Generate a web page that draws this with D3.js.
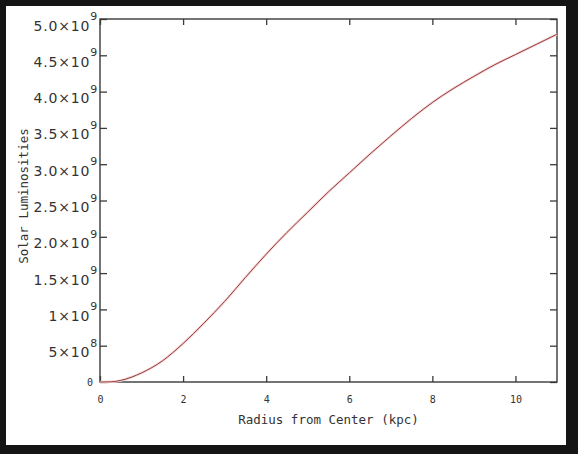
<!DOCTYPE html>
<html>
<head>
<meta charset="utf-8">
<script src="https://cdn.jsdelivr.net/npm/d3@7"></script>
<style>
  html, body { margin: 0; padding: 0; background: #141414; }
  svg { display: block; }
</style>
</head>
<body>
<div id="chart"></div>
<script>
// radius from center (kpc) and enclosed luminosity (solar luminosities)
const radius = [0, 0.25, 0.5, 1, 1.5, 2, 2.5, 3, 3.5, 4, 4.5, 5, 5.5, 6, 6.5, 7, 7.5, 8, 8.5, 9, 9.5, 10, 10.5, 11];
const luminosity = [0, 0.002e9, 0.022e9, 0.125e9, 0.29e9, 0.53e9, 0.81e9, 1.11e9, 1.44e9, 1.76e9, 2.06e9, 2.34e9,
  2.62e9, 2.88e9, 3.14e9, 3.39e9, 3.63e9, 3.85e9, 4.04e9, 4.21e9, 4.37e9, 4.51e9, 4.65e9, 4.79e9];

const xTicks = [0, 2, 4, 6, 8, 10];
const yTicks = [0, 0.5e9, 1e9, 1.5e9, 2e9, 2.5e9, 3e9, 3.5e9, 4e9, 4.5e9, 5e9];
// tick labels: [mantissa, exponent]
const yTickLabels = [['0', ''], ['5×10', '8'], ['1×10', '9'], ['1.5×10', '9'], ['2.0×10', '9'], ['2.5×10', '9'],
  ['3.0×10', '9'], ['3.5×10', '9'], ['4.0×10', '9'], ['4.5×10', '9'], ['5.0×10', '9']];

const width = 578, height = 454;
const margin = { top: 19, right: 21, bottom: 72, left: 100 };

const svg = d3.select('#chart')
  .append('svg')
  .attr('width', width)
  .attr('height', height);

// white panel on the dark page
svg.append('rect')
  .attr('x', 6).attr('y', 6)
  .attr('width', 560).attr('height', 439)
  .attr('fill', '#fff');

const x = d3.scaleLinear().domain([0, 11]).range([margin.left, width - margin.right]);
const y = d3.scaleLinear().domain([0, 5e9]).range([height - margin.bottom, margin.top]);

const axisColor = '#3a3a3a';

// ticks on all four sides, pointing inward
const bottomAxis = svg.append('g')
  .attr('transform', `translate(0,${y(0)})`)
  .call(d3.axisBottom(x).tickValues(xTicks).tickSizeInner(-6).tickSizeOuter(0).tickFormat(d => d));
bottomAxis.selectAll('text')
  .attr('y', 14)
  .attr('font-family', '"DejaVu Sans Mono", monospace')
  .attr('font-size', 10)
  .attr('fill', '#333');

svg.append('g')
  .attr('transform', `translate(0,${y(5e9)})`)
  .call(d3.axisTop(x).tickValues(xTicks).tickSizeInner(-6).tickSizeOuter(0).tickFormat(''));

svg.append('g')
  .attr('transform', `translate(${x(0)},0)`)
  .call(d3.axisLeft(y).tickValues(yTicks).tickSizeInner(-7).tickSizeOuter(0).tickFormat(''));

svg.append('g')
  .attr('transform', `translate(${x(11)},0)`)
  .call(d3.axisRight(y).tickValues(yTicks).tickSizeInner(-7).tickSizeOuter(0).tickFormat(''));

svg.selectAll('.domain').remove();
svg.selectAll('.tick line').attr('stroke', axisColor).attr('stroke-width', 1.3);

// plot frame
svg.append('rect')
  .attr('x', x(0)).attr('y', y(5e9))
  .attr('width', x(11) - x(0)).attr('height', y(0) - y(5e9))
  .attr('fill', 'none')
  .attr('stroke', axisColor)
  .attr('stroke-width', 1.4);

// y tick labels with superscript exponent
const yLab = svg.append('g');
yTicks.forEach((v, i) => {
  const [mant, exp] = yTickLabels[i];
  if (exp === '') {
    yLab.append('text')
      .attr('x', x(0) - 7)
      .attr('y', y(v) + 4)
      .attr('text-anchor', 'end')
      .attr('font-family', '"DejaVu Sans Mono", monospace')
      .attr('font-size', 10)
      .attr('fill', '#333')
      .text(mant);
    return;
  }
  const t = yLab.append('text')
    .attr('x', x(0) - 2)
    .attr('y', y(v) + 11.5)
    .attr('text-anchor', 'end')
    .attr('font-family', '"DejaVu Sans", sans-serif')
    .attr('font-size', 14)
    .attr('letter-spacing', 0.8)
    .attr('fill', '#333');
  t.append('tspan').text(mant);
  t.append('tspan')
    .attr('dy', -10.5)
    .attr('font-size', 11)
    .text(exp);
});

// axis titles
svg.append('text')
  .attr('x', (x(0) + x(11)) / 2)
  .attr('y', 424)
  .attr('text-anchor', 'middle')
  .attr('font-family', '"DejaVu Sans Mono", monospace')
  .attr('font-size', 12.5)
  .attr('fill', '#333')
  .text('Radius from Center (kpc)');

svg.append('text')
  .attr('transform', 'translate(28,196) rotate(-90)')
  .attr('text-anchor', 'middle')
  .attr('font-family', '"DejaVu Sans Mono", monospace')
  .attr('font-size', 12.5)
  .attr('fill', '#333')
  .text('Solar Luminosities');

// the curve: faint pink halo under a thin dark red line
const points = radius.map((r, i) => [r, luminosity[i]]);
const line = d3.line()
  .x(d => x(d[0]))
  .y(d => y(d[1]))
  .curve(d3.curveMonotoneX);

svg.append('path')
  .datum(points)
  .attr('d', line)
  .attr('fill', 'none')
  .attr('stroke', '#f5d6d6')
  .attr('stroke-width', 2.6);

svg.append('path')
  .datum(points)
  .attr('d', line)
  .attr('fill', 'none')
  .attr('stroke', '#953a3a')
  .attr('stroke-width', 1);
</script>
</body>
</html>
